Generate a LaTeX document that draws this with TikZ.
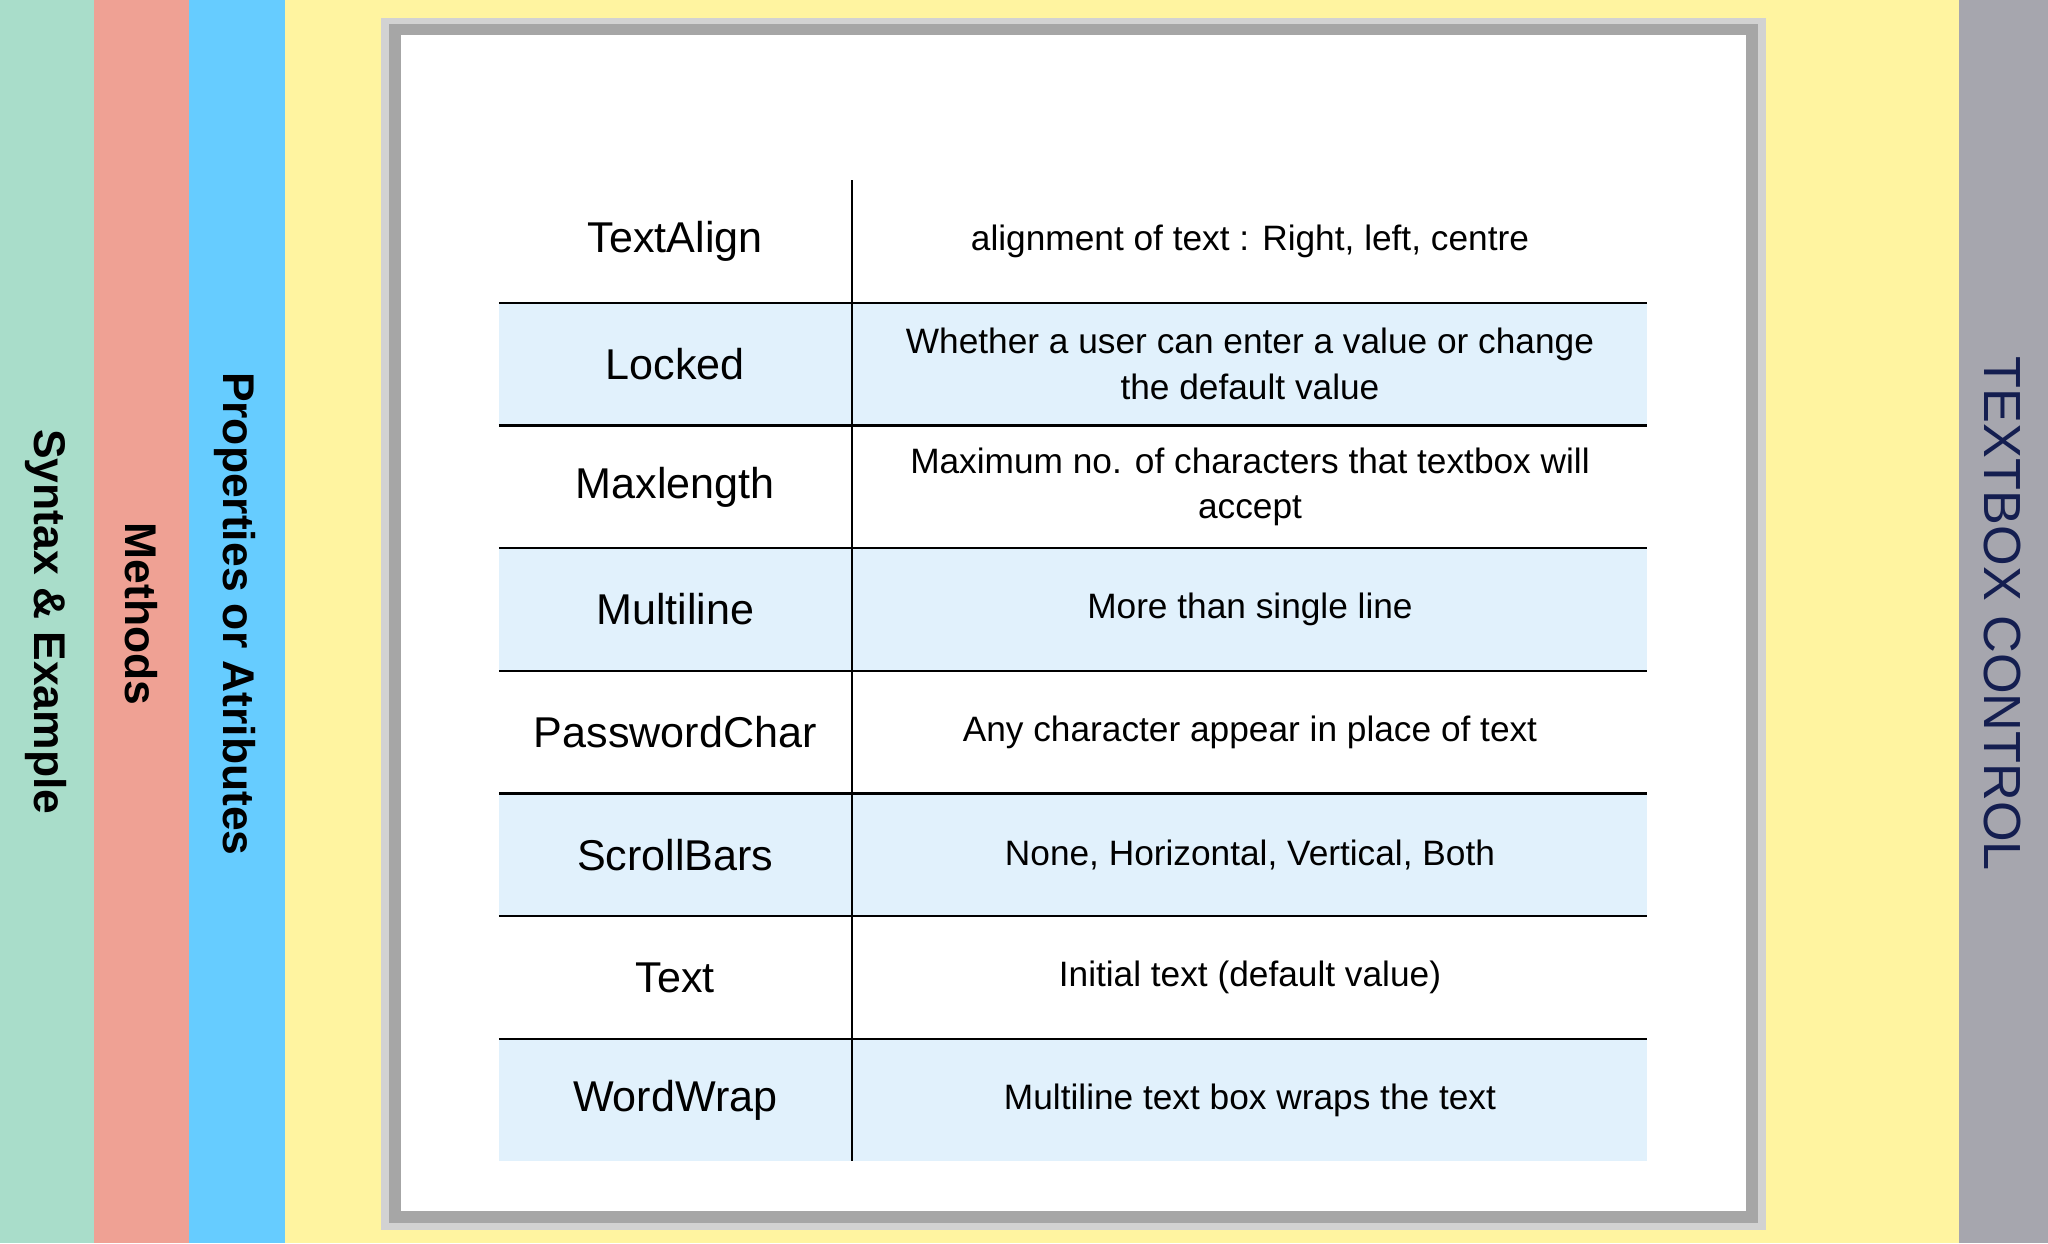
\documentclass[tikz,border=0pt]{standalone}
\usepackage{fontspec}
\setmainfont{Liberation Sans}
\begin{document}
\begin{tikzpicture}[x=1pt,y=-1pt,
  namecell/.style={anchor=center,font=\fontsize{33}{38}\selectfont},
  desccell/.style={anchor=center,align=center,font=\fontsize{27}{35}\selectfont},
  sidelbl/.style={rotate=-90,anchor=center,font=\fontsize{34}{40}\selectfont\bfseries}]
\useasboundingbox (0,0) rectangle (1568,952);
\fill[fill={rgb,255:red,169;green,221;blue,202}] (0,0) rectangle (72,952);
\fill[fill={rgb,255:red,239;green,161;blue,148}] (72,0) rectangle (145,952);
\fill[fill={rgb,255:red,102;green,204;blue,255}] (145,0) rectangle (218,952);
\fill[fill={rgb,255:red,255;green,244;blue,160}] (218,0) rectangle (1500,952);
\fill[fill={rgb,255:red,166;green,166;blue,174}] (1500,0) rectangle (1568,952);
\node[sidelbl] (s1) at (35,476) {Syntax \& Example};
\node[sidelbl] (s2) at (108,470) {Methods};
\node[sidelbl] (s3) at (180,470) {Properties or Atributes};
\node[rotate=-90,anchor=center,font=\fontsize{40}{46}\selectfont,text={rgb,255:red,20;green,30;blue,80}] (t) at (1533,470) {TEXTBOX CONTROL};
% frame
\fill[gray!35] (292,14) rectangle (1352,942);
\fill[gray!70] (298,18) rectangle (1346,936);
\fill[white] (307,27) rectangle (1337,927);
% table
\foreach \i in {1,3,5,7}{
  \fill[fill={rgb,255:red,225;green,241;blue,252}] (382,{138+\i*93.9}) rectangle (1261,{138+(\i+1)*93.9});
}
\foreach \i in {1,...,7}{
  \draw[line width=1.6pt] (382,{138+\i*93.9}) -- (1261,{138+\i*93.9});
}
\draw[line width=1.6pt] (652,138) -- (652,889);
\foreach \n/\d [count=\k from 0] in {TextAlign/{alignment of text : Right, left, centre},
  Locked/{Whether a user can enter a value or change\\the default value},
  Maxlength/{Maximum no. of characters that textbox will\\accept},
  Multiline/{More than single line},
  PasswordChar/{Any character appear in place of text},
  ScrollBars/{None, Horizontal, Vertical, Both},
  Text/{Initial text (default value)},
  WordWrap/{Multiline text box wraps the text}}{
  \node[namecell] (n\k) at (517,{138+(\k+0.5)*93.9}) {\n};
  \node[desccell] (d\k) at (957,{138+(\k+0.5)*93.9}) {\d};
}
\end{tikzpicture}
\end{document}
